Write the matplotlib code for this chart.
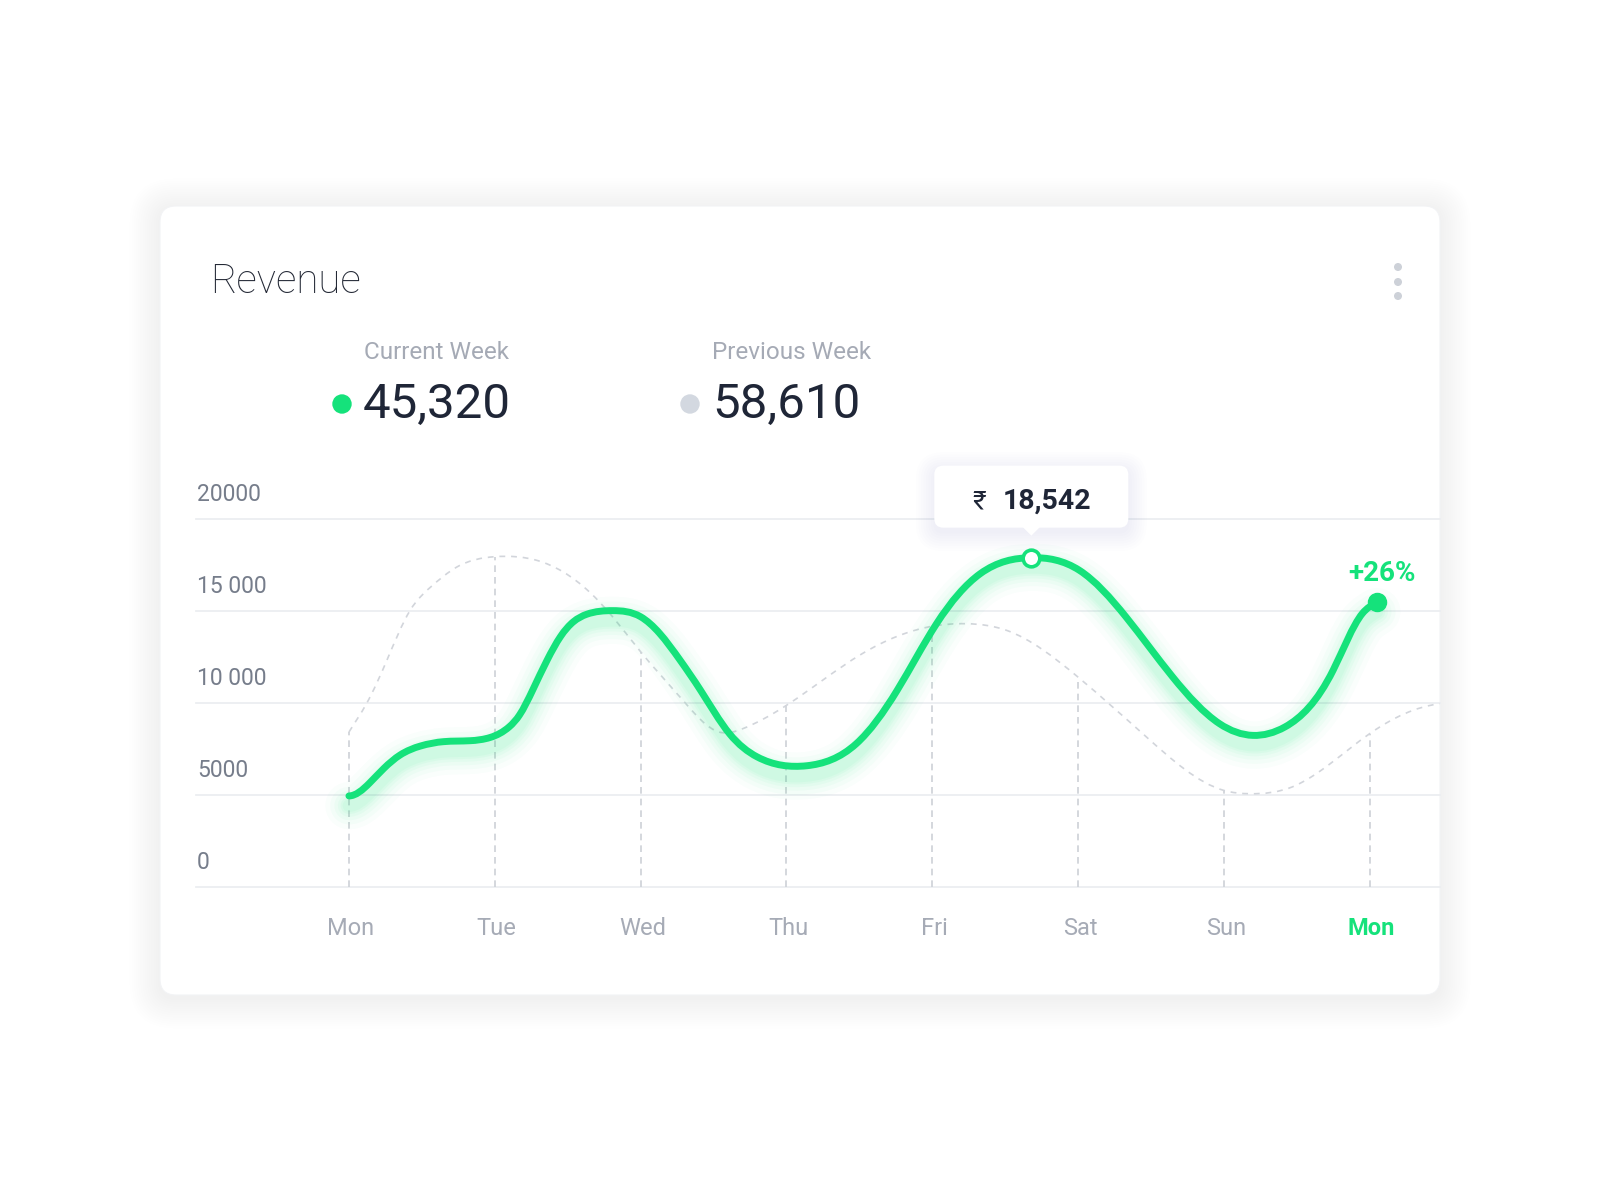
import numpy as np
import matplotlib
matplotlib.use('Agg')
import matplotlib.pyplot as plt
from matplotlib.path import Path
from matplotlib.patches import PathPatch, FancyBboxPatch, Circle, Polygon
from matplotlib.transforms import ScaledTranslation

plt.rcParams['font.family'] = ['Roboto', 'DejaVu Sans']

# data
days = ['Mon', 'Tue', 'Wed', 'Thu', 'Fri', 'Sat', 'Sun', 'Mon']
yticks = [0, 5000, 10000, 15000, 20000]
ytick_labels = ['0', '5000', '10 000', '15 000', '20000']

current_total = '45,320'
previous_total = '58,610'
tooltip_value = '18,542'
change_label = '+26%'

# current week curve (x in days from Monday)
cur_x = [0.00, 0.14, 0.24, 0.35, 0.49, 0.65, 0.83, 0.97, 1.10, 1.17, 1.26, 1.36, 1.45, 1.54,
         1.63, 1.81, 2.00, 2.13, 2.27, 2.41, 2.61, 2.80, 3.14, 3.48, 3.76, 4.03, 4.33, 4.68,
         5.01, 5.33, 5.65, 5.97, 6.20, 6.42, 6.75, 6.95, 7.05]
cur_y = [4950, 5640, 6450, 7170, 7660, 7900, 7950, 8130, 8710, 9350, 10700, 12340, 13600, 14420,
         14820, 15020, 14690, 13790, 12340, 10710, 8330, 7070, 6590, 7790, 10690, 14310, 17030, 17900,
         17210, 14670, 11410, 8880, 8240, 8700, 11780, 14860, 15490]

# previous week curve
prev_x = [0.00, 0.12, 0.26, 0.42, 0.56, 0.74, 1.00, 1.29, 1.47, 1.65, 1.81, 2.00, 2.29, 2.54,
          2.70, 3.00, 3.52, 4.00, 4.23, 4.51, 5.00, 5.47, 6.00, 6.18, 6.47, 7.00, 7.48]
prev_y = [8420, 9960, 12320, 15040, 16300, 17390, 17950, 17750, 17120, 16030, 14670, 12790, 10150, 8420,
          8600, 9870, 12680, 14170, 14310, 13950, 11410, 8150, 5250, 5070, 5440, 8330, 9960]

green = '#15e27b'
W, H = 1600, 1200


def smooth_path(xs, ys, s0, s1):
    # clamped cubic spline through the points, written as bezier segments
    xs = np.asarray(xs, float)
    ys = np.asarray(ys, float)
    n = len(xs)
    h = np.diff(xs)
    d = np.diff(ys) / h
    A = np.zeros((n, n))
    b = np.zeros(n)
    A[0, 0] = A[-1, -1] = 1
    b[0], b[-1] = s0, s1
    for i in range(1, n - 1):
        A[i, i - 1] = h[i]
        A[i, i] = 2 * (h[i - 1] + h[i])
        A[i, i + 1] = h[i - 1]
        b[i] = 3 * (h[i] * d[i - 1] + h[i - 1] * d[i])
    m = np.linalg.solve(A, b)
    verts = [(xs[0], ys[0])]
    codes = [Path.MOVETO]
    for i in range(n - 1):
        verts += [(xs[i] + h[i] / 3, ys[i] + m[i] * h[i] / 3),
                  (xs[i + 1] - h[i] / 3, ys[i + 1] - m[i + 1] * h[i] / 3),
                  (xs[i + 1], ys[i + 1])]
        codes += [Path.CURVE4] * 3
    return Path(verts, codes)


fig = plt.figure(figsize=(16, 12), dpi=100)
fig.patch.set_facecolor('white')

# background layer in image pixels (y down)
bg = fig.add_axes([0, 0, 1, 1], zorder=0)
bg.set_xlim(0, W)
bg.set_ylim(H, 0)
bg.axis('off')

card = (160, 206, 1280, 789)
for i in range(14):
    pad = 2 + i * 2.2
    bg.add_patch(FancyBboxPatch((card[0] - pad, card[1] - pad + 3), card[2] + 2 * pad, card[3] + 2 * pad,
                                boxstyle='round,pad=0,rounding_size=%g' % (16 + pad),
                                fc='#7a869e', ec='none', alpha=0.0055))
bg.add_patch(FancyBboxPatch(card[:2], card[2], card[3], boxstyle='round,pad=0,rounding_size=16',
                            fc='white', ec='#f2f3f5', lw=0.8))

bg.text(210, 293, 'Revenue', fontsize=29, fontweight='light', color='#232835', va='baseline')
for cy in (267, 282, 296):
    bg.add_patch(Circle((1398, cy), 4, fc='#cdd1d8', ec='none'))

bg.text(364, 359, 'Current Week', fontsize=17.5, color='#a5aab5', va='baseline')
bg.text(363, 418, current_total, fontsize=35.5, color='#1f2637', va='baseline')
bg.add_patch(Circle((342, 404), 9.7, fc=green, ec='none'))

bg.text(712, 359, 'Previous Week', fontsize=17.5, color='#a5aab5', va='baseline')
bg.text(712, 418, previous_total, fontsize=35.5, color='#1f2637', va='baseline')
bg.add_patch(Circle((690, 404), 9.7, fc='#d3d8e0', ec='none'))

# chart
ax = fig.add_axes([196 / W, (H - 887) / H, 1244 / W, 368 / H], zorder=2)
ax.patch.set_alpha(0)
ax.set_xlim(-1.049, 7.483)
ax.set_ylim(0, 20000)
ax.axis('off')

for v, lab in zip(yticks, ytick_labels):
    ax.axhline(v, color='#eceef1', lw=1.3, zorder=1, clip_on=False)
    ax.annotate(lab, xy=(0, v), xycoords=('axes fraction', 'data'), xytext=(1, 18),
                textcoords='offset pixels', ha='left', va='baseline', fontsize=16.5,
                color='#767d8b')

day_idx = np.arange(len(days))
tops = [prev_y[prev_x.index(float(i))] for i in day_idx]
ax.vlines(day_idx, 0, tops, colors='#cdd1d7', lw=1.2, linestyles=(0, (4, 3)), zorder=2)

for i, d in enumerate(days):
    last = i == len(days) - 1
    ax.annotate(d, xy=(i, 0), xytext=(2, -48), textcoords='offset pixels', ha='center',
                va='baseline', fontsize=17, fontweight='bold' if last else 'normal',
                color=green if last else '#a6abb6')

ax.add_patch(PathPatch(smooth_path(prev_x, prev_y, 12800, 1000), fill=False, ec='#d2d5db', lw=1.2,
                       linestyle=(0, (3.5, 3.5)), zorder=3))

cur_path = smooth_path(cur_x, cur_y, 0, 5000)
shift = ax.transData + ScaledTranslation(0, -7 / 72, fig.dpi_scale_trans)
for lw, a in zip([34, 27, 21, 16, 12, 9], [0.022, 0.03, 0.038, 0.045, 0.05, 0.05]):
    ax.add_patch(PathPatch(cur_path, fill=False, ec='#2be887', lw=lw, alpha=a, transform=shift,
                           capstyle='round', joinstyle='round', zorder=4, clip_on=False))
ax.add_patch(PathPatch(cur_path, fill=False, ec=green, lw=5, capstyle='round',
                       joinstyle='round', zorder=5, clip_on=False))

peak = int(np.argmax(cur_y))
ax.plot(cur_x[peak], cur_y[peak], 'o', ms=12, mfc='white', mec=green, mew=2.6, zorder=6, clip_on=False)
ax.plot(cur_x[-1], cur_y[-1], 'o', ms=13, color=green, zorder=6, clip_on=False)
ax.annotate(change_label, xy=(cur_x[-1], cur_y[-1]), xytext=(5, 21), textcoords='offset pixels',
            ha='center', va='baseline', fontsize=20, fontweight='bold', color=green)

# tooltip above the peak
top = fig.add_axes([0, 0, 1, 1], zorder=5)
top.set_xlim(0, W)
top.set_ylim(H, 0)
top.axis('off')
top.patch.set_alpha(0)

fig.canvas.draw()
px, py = ax.transData.transform((cur_x[peak], cur_y[peak]))
cx, cy = px, H - py
bw, bh = 194, 62
bx, by = cx - bw / 2, cy - 30 - bh
for i in range(8):
    pad = 1 + i * 2.5
    top.add_patch(FancyBboxPatch((bx - pad, by - pad + 5), bw + 2 * pad, bh + 2 * pad,
                                 boxstyle='round,pad=0,rounding_size=%g' % (9 + pad),
                                 fc='#5a6680', ec='none', alpha=0.008))
top.add_patch(FancyBboxPatch((bx, by), bw, bh, boxstyle='round,pad=0,rounding_size=9',
                             fc='white', ec='none'))
top.add_patch(Polygon([(cx - 9, by + bh - 1), (cx + 9, by + bh - 1), (cx, by + bh + 8)],
                      closed=True, fc='white', ec='none'))
top.text(cx - 52, by + bh - 19, '₹', fontsize=19, color='#1f2637', ha='center', va='baseline')
top.text(cx - 29, by + bh - 19, tooltip_value, fontsize=20.5, fontweight='bold', color='#1f2637',
         ha='left', va='baseline')

fig.savefig('out.png', dpi=100)
